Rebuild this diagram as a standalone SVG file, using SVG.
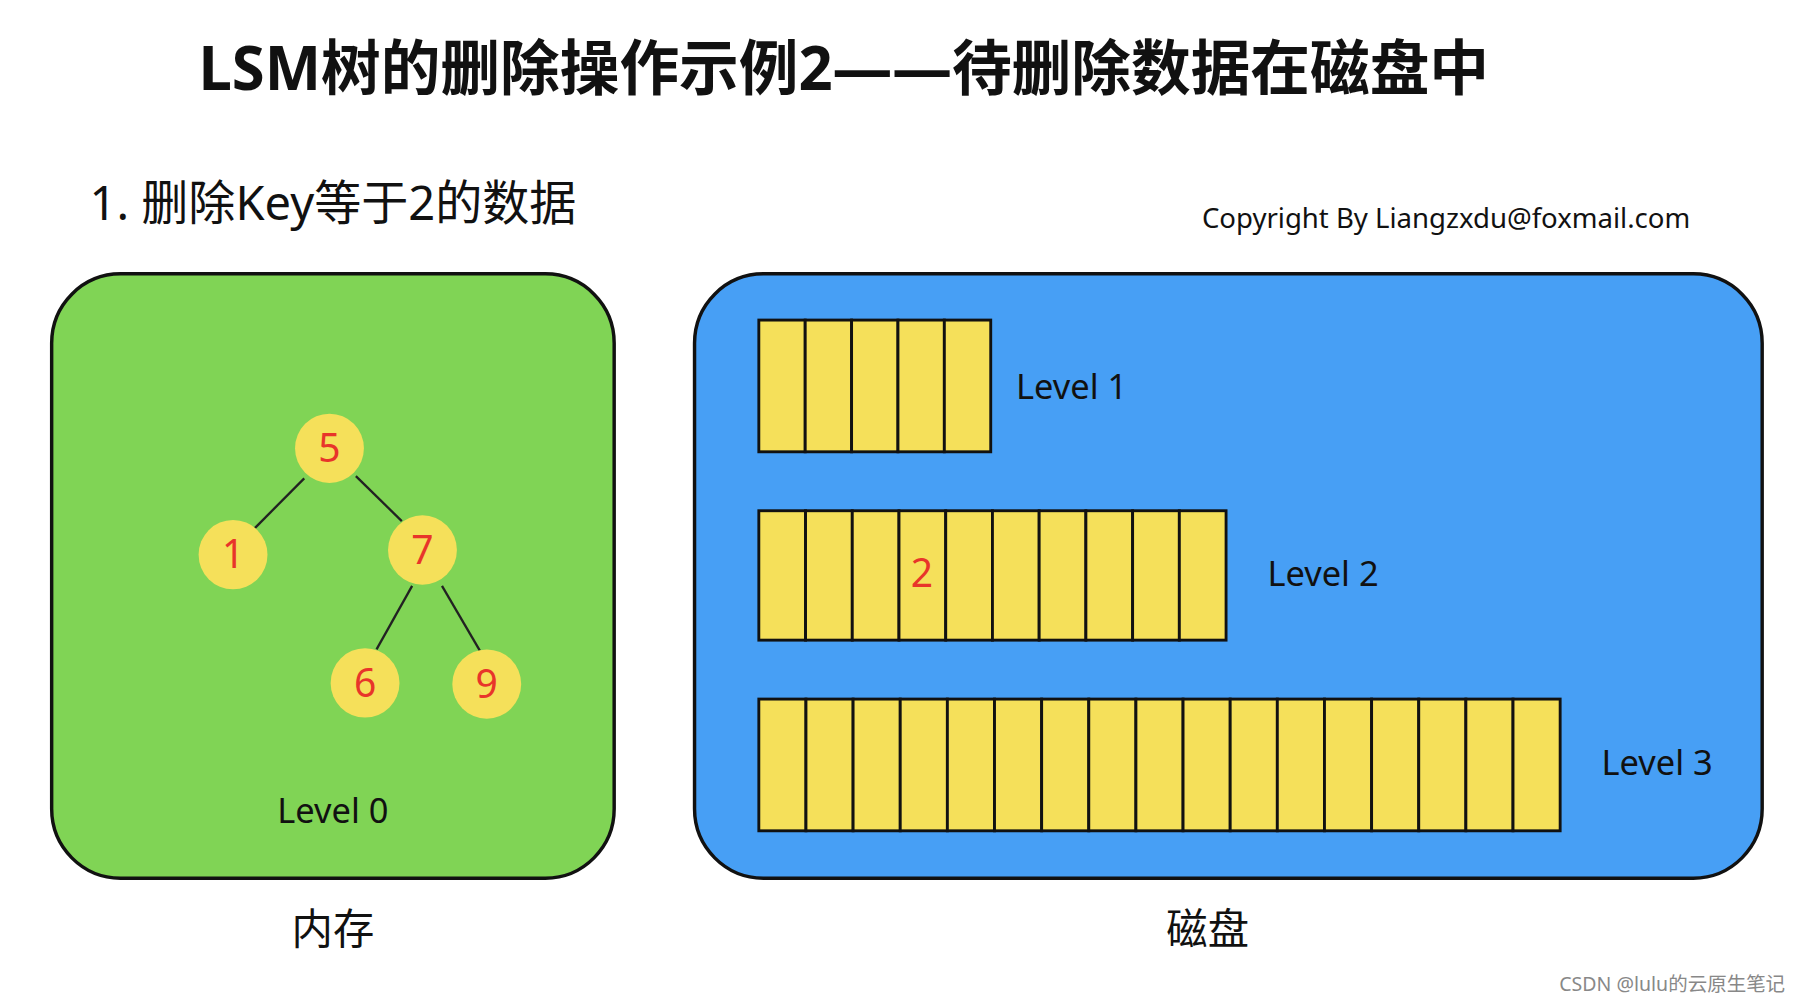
<svg xmlns="http://www.w3.org/2000/svg" width="1800" height="996" viewBox="0 0 1800 996">
<style>
text{font-family:"Noto Sans","Noto Sans CJK SC",sans-serif;fill:#111}
.c{fill:#f5e05a;stroke:#111;stroke-width:2.5}
.n{fill:#f5e05a}
.r{fill:#e8352a;font-size:34px;text-anchor:middle}
.l{font-size:30px}
.e{stroke:#222;stroke-width:2}
</style>
<rect width="1800" height="996" fill="#fff"/>
<g transform="scale(1.148,1.1555)">
<text x="735" y="78" font-size="52" font-weight="bold" text-anchor="middle">LSM树的删除操作示例2——待删除数据在磁盘中</text>
<text x="78" y="190" font-size="41">1. 删除Key等于2的数据</text>
<text x="1047" y="197" font-size="24">Copyright By Liangzxdu@foxmail.com</text>
<g id="memory"><rect x="45" y="237" width="490" height="523" rx="60" fill="#80d455" stroke="#111" stroke-width="3"/>
<text class="l" x="290" y="712" text-anchor="middle">Level 0</text></g>
<g id="disk"><rect x="605" y="237" width="930" height="523" rx="60" fill="#479ff5" stroke="#111" stroke-width="3"/></g>
<g id="edges">
<line class="e" x1="265" y1="414" x2="222" y2="457"/>
<line class="e" x1="310" y1="412" x2="350" y2="451"/>
<line class="e" x1="359" y1="507" x2="328" y2="562"/>
<line class="e" x1="385" y1="507" x2="418" y2="563"/>
</g>
<g id="n5"><circle class="n" cx="287" cy="388" r="30"/><text class="r" x="287" y="400">5</text></g>
<g id="n1"><circle class="n" cx="203" cy="480" r="30"/><text class="r" x="203" y="492">1</text></g>
<g id="n7"><circle class="n" cx="368" cy="476" r="30"/><text class="r" x="368" y="488">7</text></g>
<g id="n6"><circle class="n" cx="318" cy="591" r="30"/><text class="r" x="318" y="603">6</text></g>
<g id="n9"><circle class="n" cx="424" cy="592" r="30"/><text class="r" x="424" y="604">9</text></g>
<g id="level1">
<rect class="c" x="661" y="277" width="40.4" height="114"/><rect class="c" x="701.4" y="277" width="40.4" height="114"/><rect class="c" x="741.8" y="277" width="40.4" height="114"/><rect class="c" x="782.2" y="277" width="40.4" height="114"/><rect class="c" x="822.6" y="277" width="40.4" height="114"/>
<text class="l" x="885" y="345">Level 1</text></g>
<g id="level2">
<rect class="c" x="661" y="442" width="40.7" height="112"/><rect class="c" x="701.7" y="442" width="40.7" height="112"/><rect class="c" x="742.4" y="442" width="40.7" height="112"/><rect class="c" x="783.1" y="442" width="40.7" height="112"/><rect class="c" x="823.8" y="442" width="40.7" height="112"/><rect class="c" x="864.5" y="442" width="40.7" height="112"/><rect class="c" x="905.2" y="442" width="40.7" height="112"/><rect class="c" x="945.9" y="442" width="40.7" height="112"/><rect class="c" x="986.6" y="442" width="40.7" height="112"/><rect class="c" x="1027.3" y="442" width="40.7" height="112"/>
<text class="r" x="803" y="508">2</text>
<text class="l" x="1104" y="507">Level 2</text></g>
<g id="level3">
<rect class="c" x="661" y="605" width="41.06" height="114"/><rect class="c" x="702.06" y="605" width="41.06" height="114"/><rect class="c" x="743.12" y="605" width="41.06" height="114"/><rect class="c" x="784.18" y="605" width="41.06" height="114"/><rect class="c" x="825.24" y="605" width="41.06" height="114"/><rect class="c" x="866.3" y="605" width="41.06" height="114"/><rect class="c" x="907.36" y="605" width="41.06" height="114"/><rect class="c" x="948.42" y="605" width="41.06" height="114"/><rect class="c" x="989.48" y="605" width="41.06" height="114"/><rect class="c" x="1030.54" y="605" width="41.06" height="114"/><rect class="c" x="1071.6" y="605" width="41.06" height="114"/><rect class="c" x="1112.66" y="605" width="41.06" height="114"/><rect class="c" x="1153.72" y="605" width="41.06" height="114"/><rect class="c" x="1194.78" y="605" width="41.06" height="114"/><rect class="c" x="1235.84" y="605" width="41.06" height="114"/><rect class="c" x="1276.9" y="605" width="41.06" height="114"/><rect class="c" x="1317.96" y="605" width="41.06" height="114"/>
<text class="l" x="1395" y="671">Level 3</text></g>
<text x="290" y="817" font-size="36" text-anchor="middle">内存</text>
<text x="1052" y="817" font-size="36" text-anchor="middle">磁盘</text>
<text x="1555" y="858" font-size="17" text-anchor="end" style="fill:#888">CSDN @lulu的云原生笔记</text>
</g>
</svg>
